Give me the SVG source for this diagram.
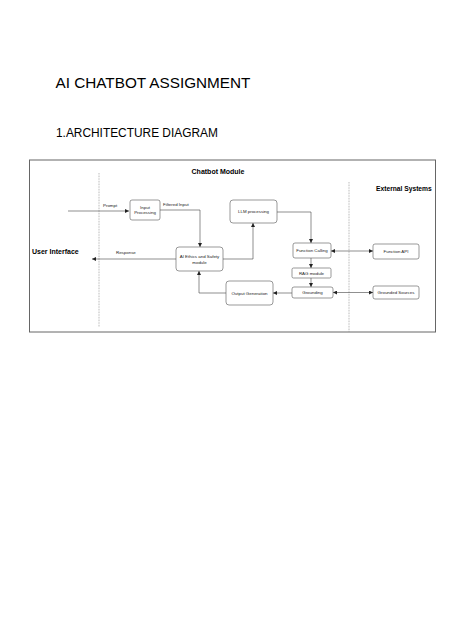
<svg xmlns="http://www.w3.org/2000/svg" width="474" height="632" viewBox="0 0 474 632">
<style>
.t{font-family:"Liberation Sans",Arial,sans-serif;fill:#000}
.b{font-weight:bold;font-size:7px}
.s{font-size:4.4px;fill:#222}
.box{fill:#fff;stroke:#555;stroke-width:0.6}
.c{fill:none;stroke:#444;stroke-width:0.6}
.d{stroke:#888;stroke-width:0.7;stroke-dasharray:0.8,0.8}
</style>
<defs>
<marker id="a" viewBox="0 0 6 6" refX="6" refY="3" markerWidth="4" markerHeight="4" orient="auto-start-reverse" markerUnits="userSpaceOnUse">
<path d="M0,0 L6,3 L0,6 z" fill="#222"/>
</marker>
</defs>
<rect width="474" height="632" fill="#fff"/>
<text class="t" x="55.5" y="88" font-size="15.3">AI CHATBOT ASSIGNMENT</text>
<text class="t" x="56" y="137" font-size="11.9">1.ARCHITECTURE DIAGRAM</text>
<g id="frame">
<rect x="29.5" y="160" width="406" height="172" fill="none" stroke="#666" stroke-width="1"/>
<line class="d" x1="99" y1="173" x2="99" y2="327"/>
<line class="d" x1="349" y1="182" x2="349" y2="332"/>
<text class="t b" x="218" y="174" text-anchor="middle">Chatbot Module</text>
<text class="t b" x="376" y="191" font-size="6.7px" style="font-size:6.7px">External Systems</text>
<text class="t b" x="32" y="254">User Interface</text>
</g>
<g id="connectors">
<path class="c" d="M68,211 H129" marker-end="url(#a)"/>
<path class="c" d="M160,210 H200 V247" marker-end="url(#a)"/>
<path class="c" d="M176,259 H92" marker-end="url(#a)"/>
<path class="c" d="M223,259 H253 V223" marker-end="url(#a)"/>
<path class="c" d="M277,212 H311 V243" marker-end="url(#a)"/>
<path class="c" d="M311,258 V268" marker-end="url(#a)"/>
<path class="c" d="M311,278 V287" marker-end="url(#a)"/>
<path class="c" d="M331,251 H373" marker-start="url(#a)" marker-end="url(#a)"/>
<path class="c" d="M333,292.5 H373" marker-start="url(#a)" marker-end="url(#a)"/>
<path class="c" d="M292,293 H273" marker-end="url(#a)"/>
<path class="c" d="M226,293 H199 V271" marker-end="url(#a)"/>
<text class="t s" x="103" y="207">Prompt</text>
<text class="t s" x="163" y="206">Filtered Input</text>
<text class="t s" x="116" y="254">Response</text>
</g>
<g id="input-processing">
<rect class="box" x="130" y="200" width="30" height="20" rx="2"/>
<text class="t s" x="145" y="208.5" text-anchor="middle">Input</text>
<text class="t s" x="145" y="214" text-anchor="middle">Processing</text>
</g>
<g id="ai-ethics">
<rect class="box" x="176" y="247" width="47" height="24" rx="3"/>
<text class="t s" x="199.5" y="258" text-anchor="middle">AI Ethics and Safety</text>
<text class="t s" x="199.5" y="263.5" text-anchor="middle">module</text>
</g>
<g id="llm">
<rect class="box" x="230" y="200" width="47" height="23" rx="3"/>
<text class="t s" x="253.5" y="213" text-anchor="middle">LLM processing</text>
</g>
<g id="function-calling">
<rect class="box" x="293" y="243" width="38" height="15" rx="2"/>
<text class="t s" x="312" y="252" text-anchor="middle">Function Calling</text>
</g>
<g id="rag">
<rect class="box" x="292" y="268" width="39" height="10" rx="1.5"/>
<text class="t s" x="311.5" y="274.5" text-anchor="middle">RAG module</text>
</g>
<g id="grounding">
<rect class="box" x="292" y="287" width="41" height="11" rx="2"/>
<text class="t s" x="312.5" y="294" text-anchor="middle">Grounding</text>
</g>
<g id="output-generation">
<rect class="box" x="226" y="281" width="47" height="24" rx="3"/>
<text class="t s" x="249.5" y="294.5" text-anchor="middle">Output Generation</text>
</g>
<g id="function-api">
<rect class="box" x="373" y="244" width="46" height="15" rx="2"/>
<text class="t s" x="396" y="253" text-anchor="middle">Function API</text>
</g>
<g id="grounded-sources">
<rect class="box" x="373" y="286" width="46" height="13" rx="2"/>
<text class="t s" x="396" y="294" text-anchor="middle">Grounded Sources</text>
</g>
</svg>
